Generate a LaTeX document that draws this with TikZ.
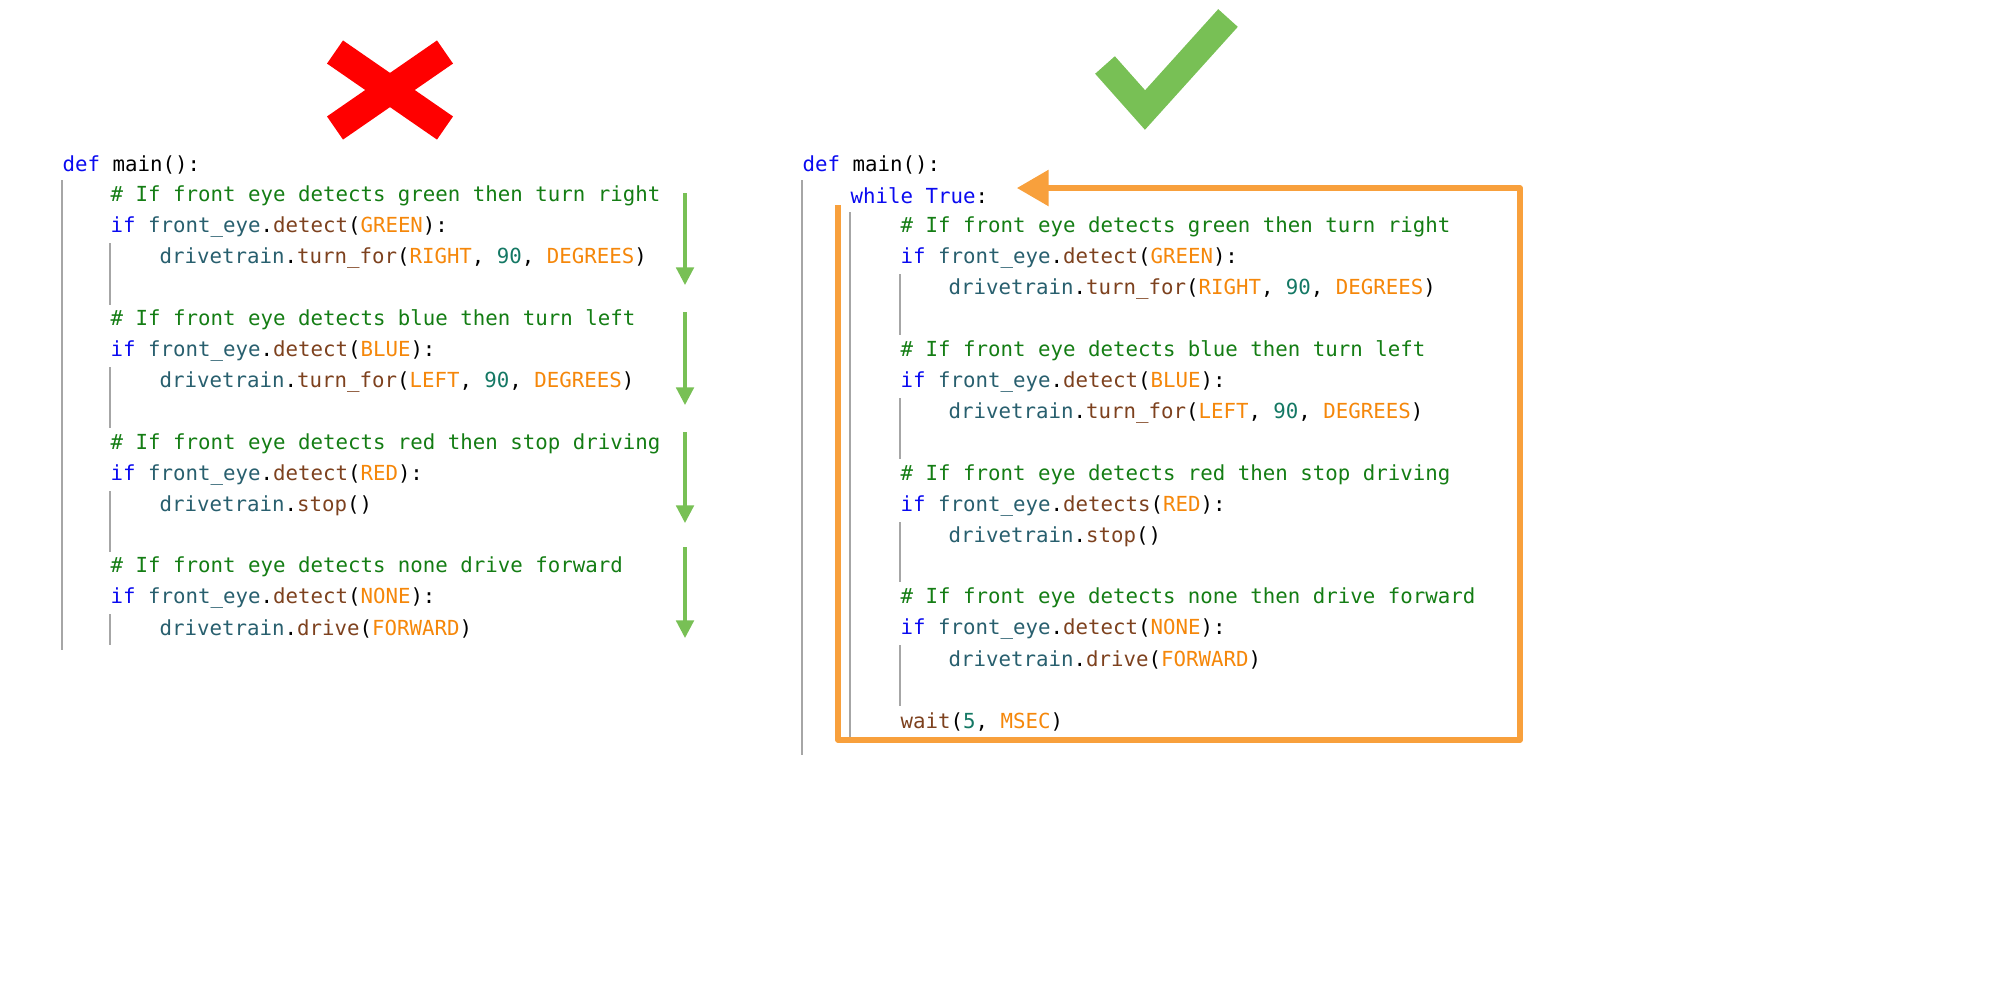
\documentclass[tikz,border=0pt]{standalone}
\usepackage{fontspec}
\setmonofont{DejaVu Sans Mono}
\usetikzlibrary{arrows.meta}
\definecolor{kw}{RGB}{10,10,240}
\definecolor{cm}{RGB}{20,125,20}
\definecolor{nm}{RGB}{40,95,110}
\definecolor{fn}{RGB}{125,65,30}
\definecolor{cn}{RGB}{245,135,10}
\definecolor{nu}{RGB}{20,120,100}
\definecolor{okgreen}{RGB}{120,192,85}
\definecolor{looporange}{RGB}{248,160,60}
\newcommand\kw[1]{\textcolor{kw}{#1}}
\newcommand\cm[1]{\textcolor{cm}{#1}}
\newcommand\nm[1]{\textcolor{nm}{#1}}
\newcommand\fn[1]{\textcolor{fn}{#1}}
\newcommand\cn[1]{\textcolor{cn}{#1}}
\newcommand\numb[1]{\textcolor{nu}{#1}}
\tikzset{
  code/.style={anchor=west,inner sep=0pt,font=\ttfamily\fontsize{5.9}{7}\selectfont},
  guide/.style={draw=black!35,line width=0.3pt},
  down/.style={draw=okgreen,line width=0.9pt,-{Triangle[length=5pt,width=5pt]}}
}
\begin{document}
\begin{tikzpicture}[x=0.01cm,y=-0.01cm]
\useasboundingbox (0,0) rectangle (2000,990);

% marks
\draw[red,line width=8pt] (335,52) -- (445,128);
\draw[red,line width=8pt] (335,128) -- (445,52);
\draw[okgreen,line width=7.5pt] (1105,65) -- (1145,110) -- (1228,18);

% left code
\draw[guide] (62,180) -- (62,650);
\draw[guide] (110,243) -- (110,305);
\draw[guide] (110,367) -- (110,428);
\draw[guide] (110,491) -- (110,552);
\draw[guide] (110,614) -- (110,645);
\node[code] (ldef) at (62,165) {\kw{def} main():};
\node[code] (lc1) at (110,196) {\cm{\# If front eye detects green then turn right}};
\node[code] (li1) at (110,227) {\kw{if} \nm{front\_eye}.\fn{detect}(\cn{GREEN}):};
\node[code] (ld1) at (159,258) {\nm{drivetrain}.\fn{turn\_for}(\cn{RIGHT}, \numb{90}, \cn{DEGREES})};
\node[code] (lc2) at (110,320) {\cm{\# If front eye detects blue then turn left}};
\node[code] (li2) at (110,351) {\kw{if} \nm{front\_eye}.\fn{detect}(\cn{BLUE}):};
\node[code] (ld2) at (159,382) {\nm{drivetrain}.\fn{turn\_for}(\cn{LEFT}, \numb{90}, \cn{DEGREES})};
\node[code] (lc3) at (110,444) {\cm{\# If front eye detects red then stop driving}};
\node[code] (li3) at (110,475) {\kw{if} \nm{front\_eye}.\fn{detect}(\cn{RED}):};
\node[code] (ld3) at (159,506) {\nm{drivetrain}.\fn{stop}()};
\node[code] (lc4) at (110,567) {\cm{\# If front eye detects none drive forward}};
\node[code] (li4) at (110,598) {\kw{if} \nm{front\_eye}.\fn{detect}(\cn{NONE}):};
\node[code] (ld4) at (159,629) {\nm{drivetrain}.\fn{drive}(\cn{FORWARD})};

% flow arrows
\foreach \a/\b in {193/285,312/405,432/523,547/638}
  \draw[down] (685,\a) -- (685,\b);

% right code
\draw[guide] (802,180) -- (802,755);
\draw[guide] (850,212) -- (850,740);
\draw[guide] (900,274) -- (900,335);
\draw[guide] (900,398) -- (900,459);
\draw[guide] (900,522) -- (900,582);
\draw[guide] (900,645) -- (900,706);
\node[code] (rdef) at (802,165) {\kw{def} main():};
\node[code] (rwh) at (850,196) {\kw{while True}:};
\node[code] (rc1) at (900,227) {\cm{\# If front eye detects green then turn right}};
\node[code] (ri1) at (900,258) {\kw{if} \nm{front\_eye}.\fn{detect}(\cn{GREEN}):};
\node[code] (rd1) at (948,289) {\nm{drivetrain}.\fn{turn\_for}(\cn{RIGHT}, \numb{90}, \cn{DEGREES})};
\node[code] (rc2) at (900,351) {\cm{\# If front eye detects blue then turn left}};
\node[code] (ri2) at (900,382) {\kw{if} \nm{front\_eye}.\fn{detect}(\cn{BLUE}):};
\node[code] (rd2) at (948,413) {\nm{drivetrain}.\fn{turn\_for}(\cn{LEFT}, \numb{90}, \cn{DEGREES})};
\node[code] (rc3) at (900,475) {\cm{\# If front eye detects red then stop driving}};
\node[code] (ri3) at (900,506) {\kw{if} \nm{front\_eye}.\fn{detects}(\cn{RED}):};
\node[code] (rd3) at (948,537) {\nm{drivetrain}.\fn{stop}()};
\node[code] (rc4) at (900,598) {\cm{\# If front eye detects none then drive forward}};
\node[code] (ri4) at (900,629) {\kw{if} \nm{front\_eye}.\fn{detect}(\cn{NONE}):};
\node[code] (rd4) at (948,660) {\nm{drivetrain}.\fn{drive}(\cn{FORWARD})};
\node[code] (rwt) at (900,722) {\fn{wait}(\numb{5}, \cn{MSEC})};

% loop back
\coordinate (top) at (1520,188);
\draw[looporange,line width=1.5pt,line join=round,-{Triangle[length=9pt,width=10pt]}]
  (838,205) |- (1520,740) -- (top) -- ([xshift=8]rwh.east |- top);
\end{tikzpicture}
\end{document}
